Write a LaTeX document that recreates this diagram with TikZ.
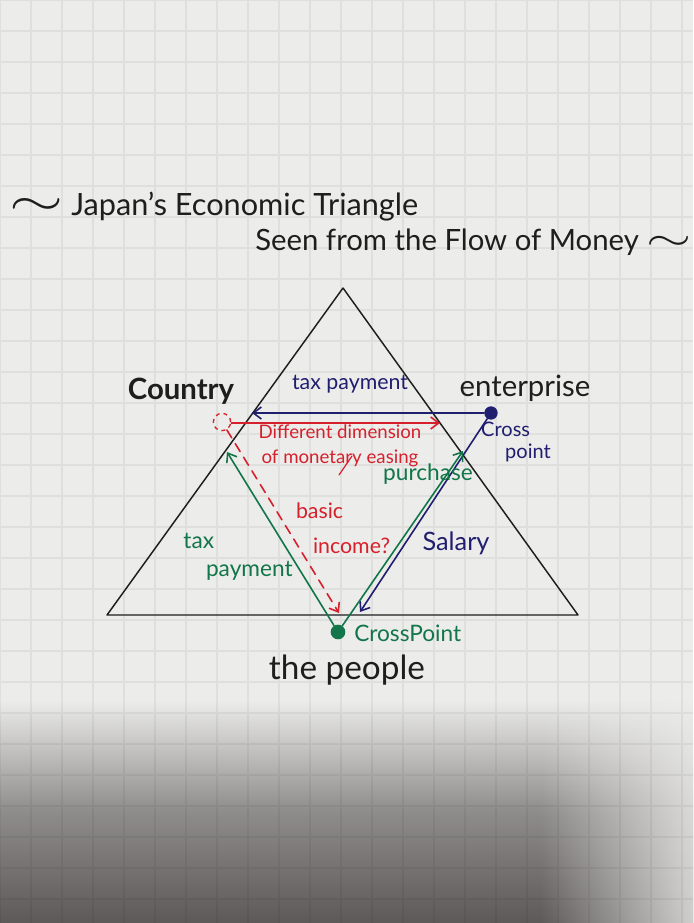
\documentclass[tikz,border=0pt]{standalone}
\usepackage{fontspec}
\setmainfont{Lato}
\usepackage{tikz}
\usetikzlibrary{shapes,arrows,arrows.meta,fadings}

\definecolor{paper}{RGB}{236,236,234}
\definecolor{shade}{RGB}{92,89,88}
\definecolor{penblack}{RGB}{30,30,30}
\definecolor{pennavy}{RGB}{32,30,110}
\definecolor{penred}{RGB}{214,32,44}
\definecolor{pengreen}{RGB}{18,118,74}

\newcommand{\wavy}{\scalebox{2.1}[1.4]{$\sim$}}

\tikzset{
  pen/.style={line width=1.2pt, line cap=round},
  arr/.style={pen, -{Straight Barb[length=6pt,width=9pt]}},
  txt/.style={inner sep=0.75pt, anchor=center},
  dotnode/.style={circle, inner sep=0pt, minimum size=11pt},
}

\begin{document}
\begin{tikzpicture}[x=0.75pt,y=0.75pt,yscale=-1,xscale=1]
    \useasboundingbox (0,0) rectangle (693,923);

    %Paper and shadow
    \fill[paper] (0,0) rectangle (693,923);
    \shade[top color=paper, bottom color=shade, middle color=shade!65!paper] (0,700) rectangle (693,923);
    \fill[paper, opacity=0.8, path fading=west] (540,700) rectangle (693,923);
    \draw[black, opacity=0.05, line width=0.8pt, step=31] (0,0) grid (693,923);

    %Shape: Triangle
    \coordinate (apex) at (343,288);
    \coordinate (bl) at (107,615);
    \coordinate (br) at (578,615);
    \draw[penblack, line width=1.1pt, line join=round] (apex) -- (bl) -- (br) -- cycle;

    %Dots
    \node[dotnode, draw=penred, dashed, line width=1pt, minimum size=13pt] (cntry) at (222,422) {};
    \node[dotnode, fill=pennavy, minimum size=10pt] (ent) at (491,413) {};
    \node[dotnode, fill=pengreen] (ppl) at (338,632) {};

    %Arrow ends
    \coordinate (navyL) at (252,413);
    \coordinate (navyB) at (360,612);
    \coordinate (redR) at (440,423);
    \coordinate (redB) at (339,613);
    \coordinate (greenL) at (227,452);
    \coordinate (greenR) at (463,451);
    \coordinate (slashA) at (339,475);
    \coordinate (slashB) at (352,456);

    %Navy arrows
    \draw[arr, pennavy] (ent) -- (navyL);
    \draw[arr, pennavy] (ent) -- (navyB);
    %Red arrows
    \draw[arr, penred] (cntry.east) ++(0,1) -- (redR);
    \draw[arr, penred, dash pattern={on 7pt off 5pt}] (cntry) -- (redB);
    \draw[pen, penred, line width=0.9pt] (slashA) -- (slashB);
    %Green arrows
    \draw[arr, pengreen] (ppl) -- (greenL);
    \draw[arr, pengreen] (ppl) -- (greenR);

    % Text Node
    \node[txt, anchor=west, penblack, font=\fontsize{23}{26}\selectfont] (title1) at (8,207) {\wavy\ Japan's Economic Triangle};
    % Text Node
    \node[txt, anchor=west, penblack, font=\fontsize{22}{26}\selectfont] (title2) at (254,242) {Seen from the Flow of Money\ \wavy};
    % Text Node
    \node[txt, penblack, font=\fontsize{22}{26}\selectfont\bfseries] (country) at (181,391) {Country};
    % Text Node
    \node[txt, penblack, font=\fontsize{22}{26}\selectfont] (enterprise) at (525,388) {enterprise};
    % Text Node
    \node[txt, penblack, font=\fontsize{25}{30}\selectfont] (people) at (347,670) {the people};
    % Text Node
    \node[txt, pennavy, font=\fontsize{16}{18}\selectfont] (taxtop) at (350,384) {tax payment};
    % Text Node
    \node[txt, pennavy, font=\fontsize{15}{17}\selectfont, align=left] (crossR) at (516,442) {Cross\\\hspace*{1.2em}point};
    % Text Node
    \node[txt, penred, font=\fontsize{14}{19}\selectfont, align=center] (easing) at (340,446) {Different dimension\\of monetary easing};
    % Text Node
    \node[txt, pengreen, font=\fontsize{17}{18}\selectfont] (purchase) at (428,474) {purchase};
    % Text Node
    \node[txt, penred, font=\fontsize{16}{26}\selectfont, align=left] (basic) at (343,528) {basic\\\hspace*{0.8em}income?};
    % Text Node
    \node[txt, pengreen, font=\fontsize{17}{21}\selectfont, align=left] (taxL) at (238,557) {tax\\\hspace*{1em}payment};
    % Text Node
    \node[txt, pennavy, font=\fontsize{19}{22}\selectfont] (salary) at (456,543) {Salary};
    % Text Node
    \node[txt, pengreen, font=\fontsize{17}{18}\selectfont, anchor=west] (crossB) at (353,633) {CrossPoint};

\end{tikzpicture}
\end{document}
